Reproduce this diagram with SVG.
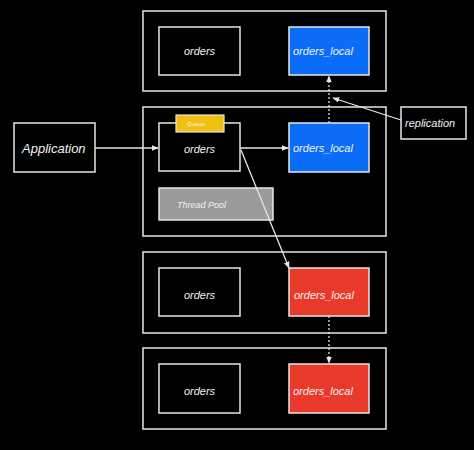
<svg xmlns="http://www.w3.org/2000/svg" width="474" height="450" viewBox="0 0 474 450">
<style>
.bg{fill:#000}
.frame{fill:none;stroke:#e6e6e6;stroke-width:1.5}
.box{fill:#000;stroke:#e6e6e6;stroke-width:1.5}
.blue{fill:#0a6cf7;stroke:#e6e6e6;stroke-width:1.5}
.red{fill:#e8392a;stroke:#e6e6e6;stroke-width:1.5}
.gray{fill:#9a9a9a;stroke:#e6e6e6;stroke-width:1.5}
.yellow{fill:#f0c010;stroke:#e6e6e6;stroke-width:1.2}
text{font-family:"Liberation Sans",sans-serif;font-style:italic;fill:#f2f2f2}
.t{font-size:11px}
.big{font-size:13px}
.conn{stroke:#e6e6e6;stroke-width:1.3;fill:none}
.dash{stroke-dasharray:2 2}
</style>
<defs>
<marker id="ah" viewBox="0 0 10 10" refX="9" refY="5" markerWidth="7" markerHeight="7" orient="auto-start-reverse" markerUnits="userSpaceOnUse">
<path d="M0,1 L10,5 L0,9 Z" fill="#e6e6e6"/>
</marker>
</defs>
<rect class="bg" x="0" y="0" width="474" height="450"/>

<g id="server1">
<rect class="frame" x="143" y="11" width="243" height="80"/>
</g>
<g id="orders1"><rect class="box" x="159" y="27" width="81" height="48"/><text class="t" x="199.5" y="55" text-anchor="middle">orders</text></g>
<g id="orders_local1"><rect class="blue" x="289" y="27" width="80" height="48"/><text class="t" x="293" y="55">orders_local</text></g>

<g id="server2">
<rect class="frame" x="143" y="107" width="243" height="129"/>
</g>
<g id="application"><rect class="box" x="14" y="123" width="81" height="49"/><text class="big" x="22" y="153">Application</text></g>
<g id="orders2"><rect class="box" x="159" y="123" width="81" height="48"/><text class="t" x="199.5" y="153" text-anchor="middle">orders</text></g>
<g id="queue"><rect class="yellow" x="176" y="115" width="48" height="17"/><text x="187" y="126" style="font-size:6px">Queue</text></g>
<g id="orders_local2"><rect class="blue" x="289" y="123" width="80" height="49"/><text class="t" x="293" y="152">orders_local</text></g>
<g id="threadpool"><rect class="gray" x="159" y="188" width="114" height="32"/><text x="177" y="208" style="font-size:9px">Thread Pool</text></g>
<g id="replication"><rect class="box" x="401" y="107" width="65" height="32"/><text class="t" x="405" y="127">replication</text></g>

<g id="server3">
<rect class="frame" x="143" y="252" width="243" height="81"/>
</g>
<g id="orders3"><rect class="box" x="159" y="268" width="81" height="48"/><text class="t" x="199.5" y="299" text-anchor="middle">orders</text></g>
<g id="orders_local3"><rect class="red" x="289" y="268" width="80" height="48"/><text class="t" x="294" y="299">orders_local</text></g>

<g id="server4">
<rect class="frame" x="143" y="348" width="243" height="81"/>
</g>
<g id="orders4"><rect class="box" x="159" y="364" width="81" height="49"/><text class="t" x="199.5" y="395" text-anchor="middle">orders</text></g>
<g id="orders_local4"><rect class="red" x="289" y="364" width="80" height="49"/><text class="t" x="293" y="395">orders_local</text></g>

<g id="connectors">
<line class="conn" x1="95" y1="148" x2="158" y2="148" marker-end="url(#ah)"/>
<line class="conn" x1="240" y1="148" x2="288" y2="148" marker-end="url(#ah)"/>
<line class="conn" x1="241" y1="150" x2="289" y2="268" marker-end="url(#ah)"/>
<line class="conn dash" x1="329" y1="123" x2="329" y2="76" marker-end="url(#ah)"/>
<line class="conn" x1="401" y1="120" x2="333" y2="98" marker-end="url(#ah)"/>
<line class="conn dash" x1="329" y1="316" x2="329" y2="363" marker-end="url(#ah)"/>
</g>
</svg>
